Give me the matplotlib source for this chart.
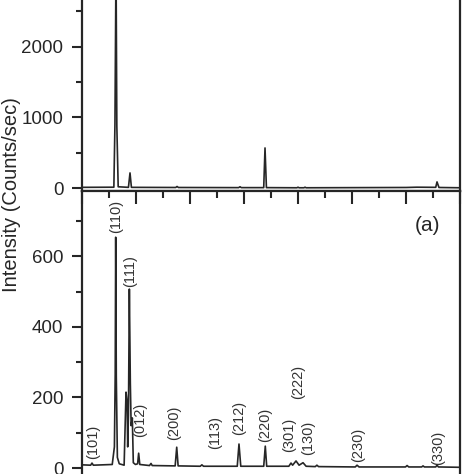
import matplotlib
matplotlib.use('Agg')
import matplotlib.pyplot as plt
from matplotlib.ticker import MultipleLocator

plt.rcParams['font.family'] = ['Liberation Sans', 'DejaVu Sans']

# top panel pattern (2theta, counts/sec)
tt_top = [10, 15.9, 16.1, 16.3, 16.45, 16.7, 18.6, 18.89, 19.15, 27.35, 27.6, 27.85,
          39.0, 39.26, 39.5, 43.65, 43.89, 44.15, 49.8, 50.0, 50.2, 51.1, 51.3, 51.5,
          70.0, 72.0, 75.5, 75.74, 76.1, 80]
cps_top = [12, 14, 900, 3200, 880, 20, 12, 216, 12, 10, 24, 10,
           8, 20, 8, 8, 569, 8, 6, 14, 6, 6, 14, 6,
           10, 14, 12, 89, 10, 6]

# bottom panel pattern (a)
tt_bot = [10, 11.6, 11.85, 12.1, 15.6, 16.0, 16.15, 16.24, 16.35, 16.55, 16.9,
          17.8, 18.15, 18.35, 18.46, 18.6, 18.77, 18.95, 19.1, 19.32, 19.5, 19.9,
          20.3, 20.49, 20.7, 22.5, 22.78, 23.0, 27.25, 27.54, 27.8, 31.9, 32.2, 32.5,
          38.75, 39.07, 39.4, 43.65, 43.94, 44.2, 48.3, 48.7, 49.0, 49.63, 50.2,
          50.93, 51.5, 53.2, 53.5, 53.8, 60.6, 60.93, 61.3, 69.9, 70.2, 70.5,
          72.9, 73.15, 73.4, 75.5, 75.74, 76.0, 80]
cps_bot = [9, 8, 14, 8, 10, 60, 265, 654, 260, 30, 12,
           8, 215, 190, 60, 150, 507, 240, 120, 142, 15, 10,
           12, 42, 10, 7, 13, 7, 6, 59, 6, 5, 9, 5,
           5, 68, 5, 5, 62, 5, 5, 14, 8, 20, 8,
           15, 5, 4, 8, 4, 3, 8, 3, 3, 7, 3,
           3, 6, 3, 3, 8, 3, 2]

hkl = ['(101)', '(110)', '(111)', '(012)', '(200)', '(113)', '(212)', '(220)',
       '(301)', '(222)', '(130)', '(230)', '(330)']
hkl_tt = [12.04, 16.39, 18.89, 20.74, 27.04, 34.63, 39.07, 43.89,
          48.33, 50.09, 51.94, 61.2, 76.02]
hkl_y = [74, 714, 558, 136, 127, 102, 142, 122, 93, 244, 85, 65, 57]

ink = '#262626'
fig = plt.figure(figsize=(4.74, 4.74), dpi=100)
ax1 = fig.add_axes([0.173, 0.597, 0.7975, 0.424])
ax2 = fig.add_axes([0.173, -0.0097, 0.7975, 0.6067])

ax1.plot(tt_top, cps_top, color=ink, lw=1.2)
ax2.plot(tt_bot, cps_bot, color=ink, lw=1.2)

ax1.set_ylim(-40, 2800)
ax2.set_ylim(-30, 785)
for ax in (ax1, ax2):
    ax.set_xlim(10, 80)
    for s in ax.spines.values():
        s.set_linewidth(1.6)
        s.set_color(ink)
    ax.tick_params(axis='y', which='major', direction='out', length=7, width=1.5,
                   labelsize=13.5, colors=ink, pad=6.5)
    ax.tick_params(axis='y', which='minor', direction='out', length=4, width=1.5, colors=ink)
    ax.tick_params(right=False, which='both')

ax1.spines['top'].set_visible(False)
ax1.yaxis.set_major_locator(MultipleLocator(1000))
ax1.yaxis.set_minor_locator(MultipleLocator(500))
ax1.tick_params(axis='x', which='both', bottom=False, labelbottom=False)

ax2.yaxis.set_major_locator(MultipleLocator(200))
ax2.yaxis.set_minor_locator(MultipleLocator(100))
ax2.xaxis.set_major_locator(MultipleLocator(10))
ax2.xaxis.set_minor_locator(MultipleLocator(5))
ax2.tick_params(axis='x', which='both', top=True, bottom=False, labelbottom=False,
                direction='in', colors=ink, width=1.5)
ax2.tick_params(axis='x', which='major', length=9)
ax2.tick_params(axis='x', which='minor', length=5)

for lab, x, y in zip(hkl, hkl_tt, hkl_y):
    ax2.text(x, y, lab, rotation=90, ha='center', va='center', fontsize=10.5, color='#333333')
ax2.text(73.9, 686, '(a)', ha='center', va='center', fontsize=15, color=ink)

fig.text(0.024, 1 - 195 / 474, 'Intensity (Counts/sec)', rotation=90,
         ha='center', va='center', fontsize=14.5, color=ink)

fig.savefig('out.png', dpi=100)
